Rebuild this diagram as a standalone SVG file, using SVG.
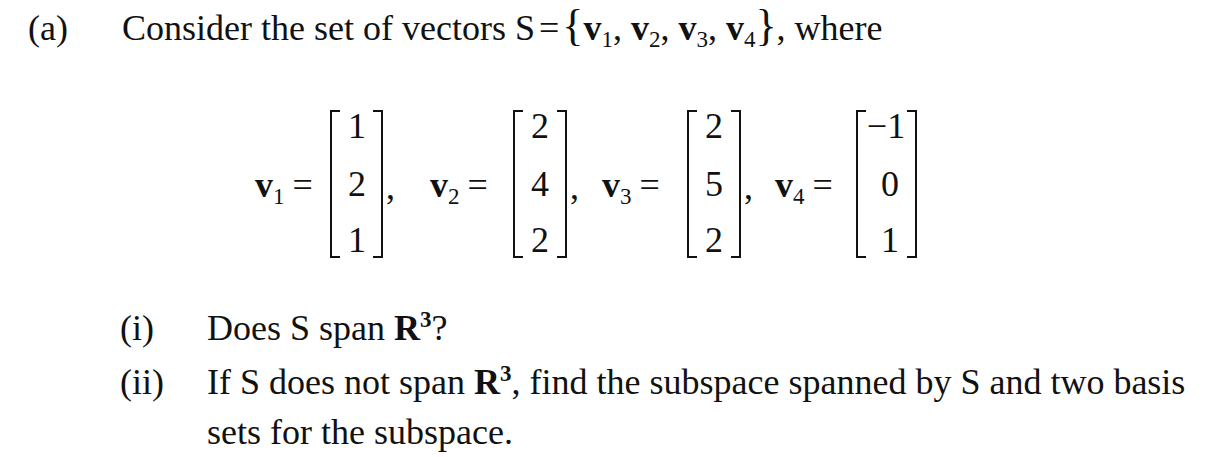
<svg xmlns="http://www.w3.org/2000/svg" width="1222" height="457" viewBox="0 0 1222 457">
<style>
text{font-family:"Liberation Serif","Times New Roman",serif;font-size:36px;fill:#111}
.b{font-weight:bold}
.s{font-size:23px}
.n{text-anchor:middle}
.br{fill:none;stroke:#111;stroke-width:2}
</style>
<rect width="1222" height="457" fill="#fff"/>
<text x="28" y="40">(a)</text>
<text x="122" y="40">Consider the set of vectors S<tspan dx="4">=</tspan><tspan font-size="44" dx="3">{</tspan><tspan class="b">v</tspan><tspan class="s" dy="7">1</tspan><tspan dy="-7">, </tspan><tspan class="b">v</tspan><tspan class="s" dy="7">2</tspan><tspan dy="-7">, </tspan><tspan class="b">v</tspan><tspan class="s" dy="7">3</tspan><tspan dy="-7">, </tspan><tspan class="b">v</tspan><tspan class="s" dy="7">4</tspan><tspan font-size="44" dy="-7">}</tspan>, where</text>

<g>
<text x="255" y="197"><tspan class="b">v</tspan><tspan class="s" dy="7">1</tspan><tspan dy="-7" dx="8">=</tspan></text>
<path class="br" d="M340,111H331V257H340M373,111H382V257H373"/>
<text class="n" x="357" y="138">1</text><text class="n" x="357" y="196">2</text><text class="n" x="357" y="252">1</text>
<text x="386" y="199">,</text>
</g>
<g>
<text x="430" y="197"><tspan class="b">v</tspan><tspan class="s" dy="7">2</tspan><tspan dy="-7" dx="8">=</tspan></text>
<path class="br" d="M523,111H514V257H523M557,111H566V257H557"/>
<text class="n" x="540" y="138">2</text><text class="n" x="540" y="196">4</text><text class="n" x="540" y="252">2</text>
<text x="570" y="199">,</text>
</g>
<g>
<text x="602" y="197"><tspan class="b">v</tspan><tspan class="s" dy="7">3</tspan><tspan dy="-7" dx="8">=</tspan></text>
<path class="br" d="M697,111H688V257H697M731,111H740V257H731"/>
<text class="n" x="714" y="138">2</text><text class="n" x="714" y="196">5</text><text class="n" x="714" y="252">2</text>
<text x="744" y="199">,</text>
</g>
<g>
<text x="775" y="197"><tspan class="b">v</tspan><tspan class="s" dy="7">4</tspan><tspan dy="-7" dx="8">=</tspan></text>
<path class="br" d="M866,111H857V257H866M907,111H916V257H907"/>
<text class="n" x="886" y="138">−1</text><text class="n" x="890" y="196">0</text><text class="n" x="890" y="252">1</text>
</g>

<text x="120" y="340">(i)</text>
<text x="207" y="340">Does S span <tspan class="b">R</tspan><tspan class="s b" dy="-13">3</tspan><tspan dy="13">?</tspan></text>
<text x="120" y="394">(ii)</text>
<text x="207" y="394">If S does not span <tspan class="b">R</tspan><tspan class="s b" dy="-13">3</tspan><tspan dy="13">, find the subspace spanned by S and two basis</tspan></text>
<text x="207" y="444">sets for the subspace.</text>
</svg>
